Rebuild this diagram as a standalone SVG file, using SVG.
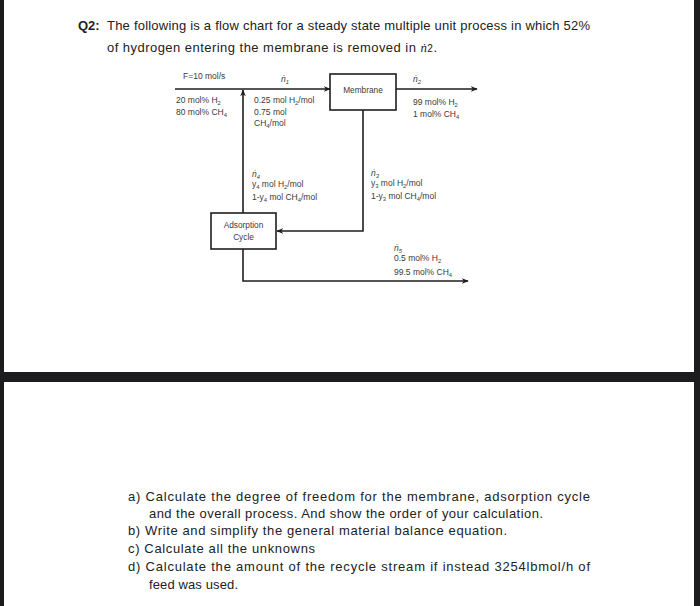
<svg xmlns="http://www.w3.org/2000/svg" width="700" height="606" viewBox="0 0 700 606">
<style>
.q{font-family:"Liberation Sans",Arial,sans-serif;font-size:13px;fill:#222}
.d{font-family:"Liberation Sans",Arial,sans-serif;font-size:8.5px;fill:#3a3a3a}
.b{font-family:"Liberation Sans",Arial,sans-serif;font-size:8.3px;fill:#3a3a3a;text-anchor:middle}
.s{font-size:5.8px}
.ln{stroke:#1e1e1e;stroke-width:1.6;fill:none}
.box{fill:#fff;stroke:#1e1e1e;stroke-width:1.6}
</style>
<defs>
<marker id="ah" viewBox="0 0 10 10" refX="9" refY="5" markerWidth="7" markerHeight="7" orient="auto" markerUnits="userSpaceOnUse">
<path d="M0,1 L10,5 L0,9 L3,5 Z" fill="#1e1e1e"/>
</marker>
</defs>
<rect width="700" height="606" fill="#fff"/>
<rect x="0" y="0" width="4" height="606" fill="#1c1c1e"/>
<rect x="694" y="0" width="6" height="606" fill="#1c1c1e"/>
<rect x="0" y="372" width="700" height="10" fill="#1c1c1e"/>

<g id="title">
<text class="q" x="78" y="30"><tspan font-weight="bold">Q2:</tspan></text>
<text class="q" x="107" y="30" textLength="483" lengthAdjust="spacing">The following is a flow chart for a steady state multiple unit process in which 52%</text>
<text class="q" x="107" y="52" textLength="330" lengthAdjust="spacing">of hydrogen entering the membrane is removed in <tspan font-family="Liberation Serif" font-style="italic">ṅ</tspan><tspan font-size="10">2</tspan>.</text>
</g>

<g id="connectors">
<line class="ln" x1="175" y1="89" x2="330" y2="89" marker-end="url(#ah)"/>
<line class="ln" x1="396" y1="89" x2="477" y2="89" marker-end="url(#ah)"/>
<line class="ln" x1="243" y1="213" x2="243" y2="90" marker-end="url(#ah)"/>
<polyline class="ln" points="363,110 363,231 277,231" marker-end="url(#ah)"/>
<polyline class="ln" points="243,249 243,281 468,281" marker-end="url(#ah)"/>
</g>

<g id="membrane">
<rect class="box" x="330" y="74" width="66" height="36"/>
<text class="b" x="363" y="93">Membrane</text>
</g>

<g id="adsorption">
<rect class="box" x="211" y="213" width="65" height="36"/>
<text class="b" x="243.5" y="228">Adsorption</text>
<text class="b" x="243.5" y="240">Cycle</text>
</g>

<g id="feed-labels">
<text class="d" x="183" y="79">F=10 mol/s</text>
<text class="d" x="176" y="103">20 mol% H<tspan class="s" dy="2">2</tspan></text>
<text class="d" x="176" y="115">80 mol% CH<tspan class="s" dy="2">4</tspan></text>
</g>

<g id="n1-labels">
<text class="d" x="281" y="82" font-style="italic">ṅ<tspan class="s" dy="1.5">1</tspan></text>
<text class="d" x="254" y="103">0.25 mol H<tspan class="s" dy="2">2</tspan><tspan dy="-2">/mol</tspan></text>
<text class="d" x="254" y="115">0.75 mol</text>
<text class="d" x="254" y="126">CH<tspan class="s" dy="2">4</tspan><tspan dy="-2">/mol</tspan></text>
</g>

<g id="n2-labels">
<text class="d" x="413" y="82" font-style="italic">ṅ<tspan class="s" dy="1.5">2</tspan></text>
<text class="d" x="413" y="105">99 mol% H<tspan class="s" dy="2">2</tspan></text>
<text class="d" x="413" y="117">1 mol% CH<tspan class="s" dy="2">4</tspan></text>
</g>

<g id="n4-labels">
<text class="d" x="252" y="177" font-style="italic">ṅ<tspan class="s" dy="1.5">4</tspan></text>
<text class="d" x="252" y="187">y<tspan class="s" dy="2">4</tspan><tspan dy="-2"> mol H</tspan><tspan class="s" dy="2">2</tspan><tspan dy="-2">/mol</tspan></text>
<text class="d" x="252" y="200">1-y<tspan class="s" dy="2">4</tspan><tspan dy="-2"> mol CH</tspan><tspan class="s" dy="2">4</tspan><tspan dy="-2">/mol</tspan></text>
</g>

<g id="n3-labels">
<text class="d" x="371" y="176" font-style="italic">ṅ<tspan class="s" dy="1.5">3</tspan></text>
<text class="d" x="371" y="186">y<tspan class="s" dy="2">3</tspan><tspan dy="-2"> mol H</tspan><tspan class="s" dy="2">2</tspan><tspan dy="-2">/mol</tspan></text>
<text class="d" x="371" y="199">1-y<tspan class="s" dy="2">3</tspan><tspan dy="-2"> mol CH</tspan><tspan class="s" dy="2">4</tspan><tspan dy="-2">/mol</tspan></text>
</g>

<g id="n5-labels">
<text class="d" x="394" y="251" font-style="italic">ṅ<tspan class="s" dy="1.5">5</tspan></text>
<text class="d" x="394" y="261">0.5 mol% H<tspan class="s" dy="2">2</tspan></text>
<text class="d" x="394" y="275">99.5 mol% CH<tspan class="s" dy="2">4</tspan></text>
</g>

<g id="questions">
<text class="q" x="128" y="501" textLength="462" lengthAdjust="spacing">a) Calculate the degree of freedom for the membrane, adsorption cycle</text>
<text class="q" x="149" y="518" textLength="394" lengthAdjust="spacing">and the overall process. And show the order of your calculation.</text>
<text class="q" x="128" y="535" textLength="379" lengthAdjust="spacing">b) Write and simplify the general material balance equation.</text>
<text class="q" x="128" y="553" textLength="187" lengthAdjust="spacing">c) Calculate all the unknowns</text>
<text class="q" x="128" y="571" textLength="462" lengthAdjust="spacing">d) Calculate the amount of the recycle stream if instead 3254lbmol/h of</text>
<text class="q" x="149" y="589" textLength="89" lengthAdjust="spacing">feed was used.</text>
</g>
</svg>
